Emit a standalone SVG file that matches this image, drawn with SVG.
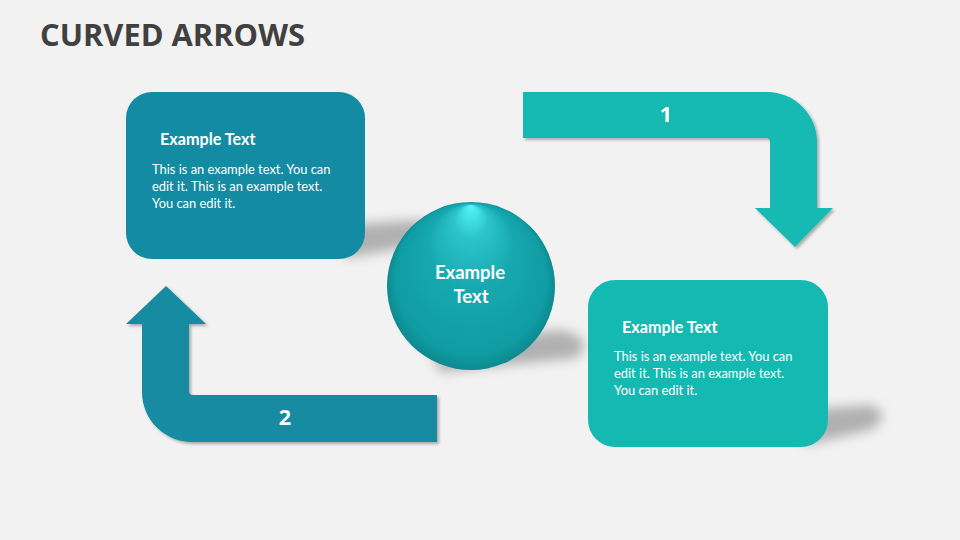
<svg xmlns="http://www.w3.org/2000/svg" width="960" height="540" viewBox="0 0 960 540">
<defs>
<style>
.title{font-family:"Open Sans","Liberation Sans",sans-serif;font-weight:700;font-size:30px;fill:#404040}
.head{font-family:"Lato","Liberation Sans",sans-serif;font-weight:700;font-size:16.2px;fill:#fff}
.body{font-family:"Lato","Liberation Sans",sans-serif;font-size:12.9px;fill:#fff}
.num{font-family:"Open Sans","Liberation Sans",sans-serif;font-weight:700;font-size:22px;fill:#fff;text-anchor:middle}
.sph{font-family:"Lato","Liberation Sans",sans-serif;font-weight:700;font-size:18.5px;fill:#fff;text-anchor:middle}
</style>
<filter id="blur" x="-50%" y="-50%" width="200%" height="200%"><feGaussianBlur stdDeviation="6"/></filter>
<filter id="ds" x="-10%" y="-10%" width="130%" height="130%"><feDropShadow dx="2" dy="2" stdDeviation="1.5" flood-color="#000" flood-opacity="0.3"/></filter>
<radialGradient id="sg" cx="0.5" cy="0.5" r="0.5" fx="0.5" fy="0.02">
<stop offset="0" stop-color="#55F6FC"/>
<stop offset="0.2" stop-color="#2CC4CC"/>
<stop offset="0.5" stop-color="#17A9B0"/>
<stop offset="0.9" stop-color="#109CA3"/>
<stop offset="1" stop-color="#0C8A90"/>
</radialGradient>
</defs>
<rect width="960" height="540" fill="#F2F2F2"/>
<text class="title" x="40" y="46" textLength="265" lengthAdjust="spacingAndGlyphs">CURVED ARROWS</text>

<g id="shadows" fill="#7A7A7A" opacity="0.55" filter="url(#blur)">
<path d="M340,225 L420,220 Q445,230 420,245 L345,258 Z"/>
<path d="M430,345 L560,330 Q600,340 575,358 L440,372 Z"/>
<path d="M800,410 L870,405 Q895,415 870,430 L805,445 Z"/>
</g>

<g id="connectors">
<g id="arrow1" filter="url(#ds)">
<path d="M523,92 H767 A50,50 0 0 1 817,142 V208 H833 L795,247 L755,208 H770 V142 A4,4 0 0 0 766,138 H523 Z" fill="#14BAB2"/>
<text class="num" x="666" y="122">1</text>
</g>
<g id="arrow2" filter="url(#ds)">
<path d="M437,395 H193 A4,4 0 0 1 189,391 V324 H206 L166,286 L126,324 H142 V392 A50,50 0 0 0 192,442 H437 Z" fill="#138BA2"/>
<text class="num" x="285" y="425">2</text>
</g>
</g>

<g id="box1">
<rect x="126" y="92" width="239" height="167" rx="26" fill="#138BA2"/>
<text class="head" x="160" y="145">Example Text</text>
<text class="body" x="152" y="174">This is an example text. You can</text>
<text class="body" x="152" y="191">edit it. This is an example text.</text>
<text class="body" x="152" y="208">You can edit it.</text>
</g>

<g id="sphere">
<circle cx="471" cy="286" r="84" fill="url(#sg)"/>
<text class="sph" x="470" y="279">Example</text>
<text class="sph" x="471" y="303">Text</text>
</g>

<g id="box2">
<rect x="588" y="280" width="240" height="167" rx="27" fill="#14BAB2"/>
<text class="head" x="622" y="333">Example Text</text>
<text class="body" x="614" y="361">This is an example text. You can</text>
<text class="body" x="614" y="378">edit it. This is an example text.</text>
<text class="body" x="614" y="395">You can edit it.</text>
</g>
</svg>
